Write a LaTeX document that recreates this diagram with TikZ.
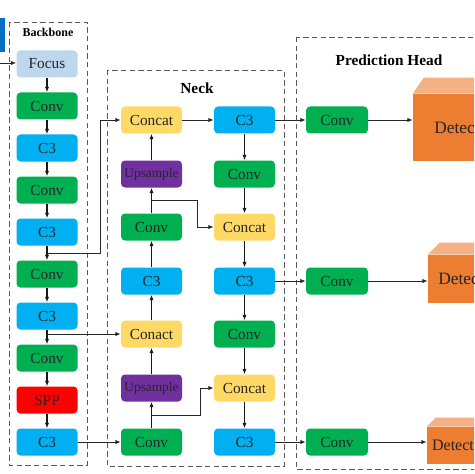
\documentclass[tikz,border=0pt]{standalone}
\usepackage{fontspec}
\setmainfont{Liberation Serif}
\usetikzlibrary{arrows.meta,calc}

\definecolor{cFocus}{HTML}{BDD7EE}
\definecolor{cConv}{HTML}{00B050}
\definecolor{cCthree}{HTML}{00B0F0}
\definecolor{cConcat}{HTML}{FFD966}
\definecolor{cUp}{HTML}{7030A0}
\definecolor{cSpp}{HTML}{FF0000}
\definecolor{cDet}{HTML}{ED7D31}
\definecolor{cDetTop}{HTML}{F4B183}
\definecolor{cMark}{HTML}{0070C0}

\begin{document}
\begin{tikzpicture}[x=0.75pt,y=0.75pt,yscale=-1,xscale=1,
  blk/.style={rounded corners=3pt, minimum width=45.75pt, minimum height=20.25pt, inner sep=0pt, font=\fontsize{11.5}{13}\selectfont, text=black!85},
  det/.style={fill=cDet, inner sep=0pt, text=black!85},
  arr/.style={-{Latex[length=4pt,width=3.2pt]}, line width=0.7pt, black!85},
  varr/.style={-{Latex[length=4pt,width=3.2pt]}, line width=1pt, black!90},
  dashbox/.style={dash pattern=on 4pt off 2.5pt, line width=0.7pt, black!65}
]

\clip (0,0) rectangle (474,474);

\fill[cMark] (-10,18) rectangle (5,52);

\draw[dashbox] (9,22) rectangle (87,465);
\draw[dashbox] (107,70) rectangle (284,466);
\draw[dashbox] (296,37) rectangle (490,469);

\node (lbback) at (48,32) [font=\bfseries\fontsize{9}{10}\selectfont] {Backbone};
\node (lbneck) at (197,88) [font=\bfseries\fontsize{11.5}{13}\selectfont] {Neck};
\node (lbhead) at (389,60) [font=\bfseries\fontsize{11.5}{13}\selectfont] {Prediction Head};

\node (bfocus) at (47,64) [blk, fill=cFocus] {Focus};
\node (bconv1) at (47,106) [blk, fill=cConv] {Conv};
\node (bc3a) at (47,148) [blk, fill=cCthree] {C3};
\node (bconv2) at (47,190) [blk, fill=cConv] {Conv};
\node (bc3b) at (47,232) [blk, fill=cCthree] {C3};
\node (bconv3) at (47,274) [blk, fill=cConv] {Conv};
\node (bc3c) at (47,316) [blk, fill=cCthree] {C3};
\node (bconv4) at (47,358) [blk, fill=cConv] {Conv};
\node (bspp) at (47,400) [blk, fill=cSpp] {SPP};
\node (bc3d) at (47,442) [blk, fill=cCthree] {C3};

\node (nconcat1) at (151.5,120) [blk, fill=cConcat] {Concat};
\node (nup1) at (151.5,174) [blk, fill=cUp, font=\fontsize{10}{12}\selectfont] {Upsample};
\node (nconv1) at (151.5,227) [blk, fill=cConv] {Conv};
\node (nc3a) at (151.5,281) [blk, fill=cCthree] {C3};
\node (nconact) at (151.5,334) [blk, fill=cConcat] {Conact};
\node (nup2) at (151.5,388) [blk, fill=cUp, font=\fontsize{10}{12}\selectfont] {Upsample};
\node (nconv2) at (151.5,442) [blk, fill=cConv] {Conv};

\node (nc3b) at (244.5,120) [blk, fill=cCthree] {C3};
\node (nconv3) at (244.5,174) [blk, fill=cConv] {Conv};
\node (nconcat2) at (244.5,227) [blk, fill=cConcat] {Concat};
\node (nc3c) at (244.5,281) [blk, fill=cCthree] {C3};
\node (nconv4) at (244.5,334) [blk, fill=cConv] {Conv};
\node (nconcat3) at (244.5,388) [blk, fill=cConcat] {Concat};
\node (nc3d) at (244.5,442) [blk, fill=cCthree] {C3};

\node (hconv1) at (337,120) [blk, fill=cConv, minimum width=46.5pt] {Conv};
\node (hconv2) at (337,281) [blk, fill=cConv, minimum width=46.5pt] {Conv};
\node (hconv3) at (337,442) [blk, fill=cConv, minimum width=46.5pt] {Conv};

\node (det1) at (457,127.5) [det, minimum width=66pt, minimum height=50.25pt, font=\fontsize{13}{15}\selectfont] {Detect};
\fill[cDetTop] (det1.north west) -- ++(11,-16) -- ($(det1.north east)+(11,-16)$) -- (det1.north east) -- cycle;
\node (det2) at (461,279) [det, minimum width=49.5pt, minimum height=36pt, font=\fontsize{13}{15}\selectfont] {Detect};
\fill[cDetTop] (det2.north west) -- ++(12,-12) -- ($(det2.north east)+(12,-12)$) -- (det2.north east) -- cycle;
\node (det3) at (453,445.5) [det, minimum width=39pt, minimum height=27.75pt, font=\fontsize{12}{14}\selectfont] {Detect};
\fill[cDetTop] (det3.north west) -- ++(9,-9) -- ($(det3.north east)+(9,-9)$) -- (det3.north east) -- cycle;

\coordinate (inp) at (0,63);
\draw[arr] (inp) -- (inp -| bfocus.west);

\foreach \a/\b in {bfocus/bconv1, bconv1/bc3a, bc3a/bconv2, bconv2/bc3b, bc3b/bconv3, bconv3/bc3c, bc3c/bconv4, bconv4/bspp, bspp/bc3d}
  \draw[varr] (\a) -- (\b);

\coordinate (tapA) at ($(bc3b.south)!0.5!(bconv3.north)$);
\coordinate (railA) at (100,0);
\draw[arr] (tapA) -- (tapA -| railA) |- (nconcat1);
\coordinate (tapB) at (47,334);
\draw[arr] (tapB) -- (tapB -| nconact.west);
\draw[arr] (bc3d) -- (nconv2);

\foreach \a/\b in {nconv2/nup2, nup2/nconact, nconact/nc3a, nc3a/nconv1, nconv1/nup1, nup1/nconcat1}
  \draw[varr] (\a) -- (\b);
\foreach \a/\b in {nc3b/nconv3, nconv3/nconcat2, nconcat2/nc3c, nc3c/nconv4, nconv4/nconcat3, nconcat3/nc3d}
  \draw[varr] (\a) -- (\b);

\coordinate (brA) at ($(nconv1.north)!0.5!(nup1.south)$);
\draw[arr] (brA) -- ++(45.5,0) |- (nconcat2);
\coordinate (brB) at ($(nconv2.north)!0.5!(nup2.south)$);
\draw[arr] (brB) -- ++(48.5,0) |- (nconcat3);

\draw[arr] (nconcat1) -- (nc3b);

\foreach \a/\b in {nc3b/hconv1, nc3c/hconv2, nc3d/hconv3}
  \draw[arr] (\a) -- (\b);

\draw[arr] (hconv1) -- (hconv1 -| det1.west);
\draw[arr] (hconv2) -- (hconv2 -| det2.west);
\draw[arr] (hconv3) -- (hconv3 -| det3.west);

\end{tikzpicture}
\end{document}
